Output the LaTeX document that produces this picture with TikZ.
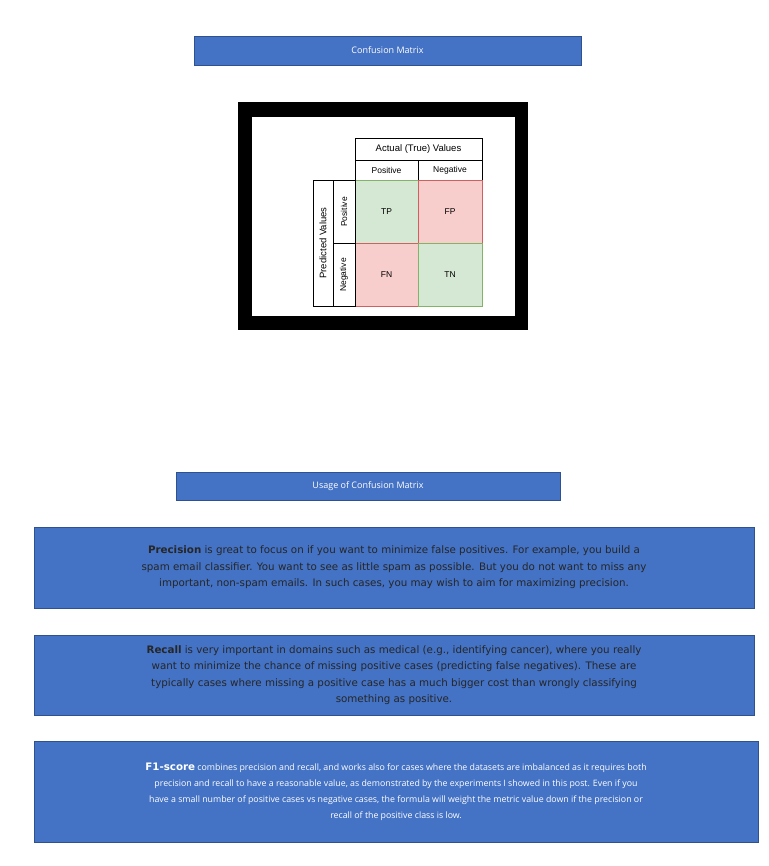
\documentclass[tikz,border=0pt]{standalone}
\usepackage{fontspec}
\setmainfont{Open Sans}
\newfontfamily\dejavu{DejaVu Sans}
\newfontfamily\libsans{Liberation Sans}
\definecolor{bfill}{HTML}{4472C4}
\definecolor{bline}{HTML}{2F528F}
\definecolor{dtext}{HTML}{262626}
\definecolor{gcell}{HTML}{D5E8D4}
\definecolor{rcell}{HTML}{F8CECC}
\definecolor{gline}{HTML}{82B366}
\definecolor{rline}{HTML}{D06060}
\begin{document}
\begin{tikzpicture}[x=1pt,y=-1pt,
  bluebox/.style={draw=bline,fill=bfill,line width=0.8pt},
  cell/.style={draw=black,line width=0.8pt},
  lab/.style={font=\libsans\fontsize{8.5}{10}\selectfont,text=black}]
\useasboundingbox (0,0) rectangle (768,866);
\fill[white] (0,0) rectangle (768,866);
% title
\draw[bluebox] (194,36) rectangle (581,65);
\node[text=white,font=\fontsize{9}{11}\selectfont] (t1) at (387.5,50.5) {Confusion Matrix};
% frame
\fill[black] (238,102) rectangle (528,330);
\fill[white] (252,117) rectangle (515,316);
% matrix
\draw[cell] (355,138) rectangle (482,160);
\node[lab,font=\libsans\fontsize{9.5}{11}\selectfont] (act) at (418.5,149) {Actual (True) Values};
\draw[cell] (355,160) rectangle (418,180);
\draw[cell] (418,160) rectangle (482,180);
\node[lab] (ap) at (386.5,170.5) {Positive};
\node[lab] (an) at (450,170.5) {Negative};
\draw[fill=gcell,draw=gline,line width=0.6pt] (355,180) rectangle (418,243);
\draw[fill=rcell,draw=rline,line width=0.6pt] (418,180) rectangle (482,243);
\draw[fill=rcell,draw=rline,line width=0.6pt] (355,243) rectangle (418,306);
\draw[fill=gcell,draw=gline,line width=0.6pt] (418,243) rectangle (482,306);
\node[lab] (tp) at (386.5,212) {TP};
\node[lab] (fp) at (450,212) {FP};
\node[lab] (fn) at (386.5,275) {FN};
\node[lab] (tn) at (450,275) {TN};
\draw[cell] (313,180) rectangle (333,306);
\draw[cell] (333,180) rectangle (355,243);
\draw[cell] (333,243) rectangle (355,306);
\node[lab,rotate=90,font=\libsans\fontsize{9.5}{11}\selectfont] (pv) at (323,243) {Predicted Values};
\node[lab,rotate=90] (pp) at (344,212) {Positive};
\node[lab,rotate=90] (pn) at (344,275) {Negative};
% usage
\draw[bluebox] (176,472) rectangle (560,500);
\node[text=white,font=\fontsize{9}{11}\selectfont] (t2) at (368,486) {Usage of Confusion Matrix};
% precision
\draw[bluebox] (34,527) rectangle (754,608);
\node[text=dtext,align=center,font=\dejavu\fontsize{10.3}{16.5}\selectfont] (pr) at (394,567.5)
 {\textbf{Precision} is great to focus on if you want to minimize false positives. For example, you build a\\
  spam email classifier. You want to see as little spam as possible. But you do not want to miss any\\
  important, non-spam emails. In such cases, you may wish to aim for maximizing precision.};
% recall
\draw[bluebox] (34,635) rectangle (754,715);
\node[text=dtext,align=center,font=\dejavu\fontsize{10.3}{16.5}\selectfont] (rc) at (394,675)
 {\textbf{Recall} is very important in domains such as medical (e.g., identifying cancer), where you really\\
  want to minimize the chance of missing positive cases (predicting false negatives). These are\\
  typically cases where missing a positive case has a much bigger cost than wrongly classifying\\
  something as positive.};
% f1
\draw[bluebox] (34,741) rectangle (758,842);
\node[text=white,align=center,font=\fontsize{8.8}{16}\selectfont] (f1) at (396,791.5)
 {{\dejavu\fontsize{10.3}{16}\selectfont\textbf{F1-score}} combines precision and recall, and works also for cases where the datasets are imbalanced as it requires both\\
  precision and recall to have a reasonable value, as demonstrated by the experiments I showed in this post. Even if you\\
  have a small number of positive cases vs negative cases, the formula will weight the metric value down if the precision or\\
  recall of the positive class is low.};
\end{tikzpicture}
\end{document}
